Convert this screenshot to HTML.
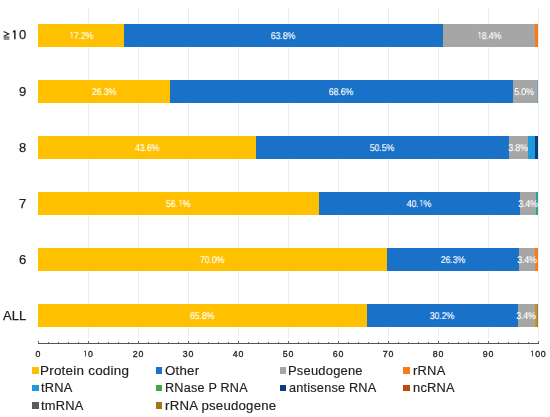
<!DOCTYPE html>
<html><head><meta charset="utf-8"><style>
*{margin:0;padding:0;box-sizing:border-box}
html,body{width:550px;height:417px;background:#fff;overflow:hidden}
body{position:relative;font-family:"Liberation Sans",sans-serif;color:#222}
.g{position:absolute;top:8px;height:330px;width:1px;background:#ececec}
.b{position:absolute;height:22.6px}
.s{position:absolute;top:0;height:100%}
.l{position:absolute;top:0.9px;text-rendering:geometricPrecision;height:100%;will-change:transform;display:flex;align-items:center;justify-content:center;color:#fff;font-size:9.8px;letter-spacing:-0.2px;white-space:nowrap;width:60px;margin-left:-30.25px;padding-top:0px;transform:scaleX(0.9);-webkit-text-stroke:0.15px #fff}
.yl{position:absolute;will-change:transform;-webkit-text-stroke:0.25px #222;right:523.8px;font-size:13px;color:#222;line-height:14px;height:14px;white-space:nowrap}
.ax{position:absolute;left:38px;top:342.8px;width:500.5px;height:1.1px;background:#555}
.tk{position:absolute;width:1px;background:#666}
.xl{position:absolute;will-change:transform;top:348.9px;font-size:8.8px;letter-spacing:0.8px;padding-left:0.8px;width:30px;margin-left:-15px;text-align:center;color:#222;line-height:10px;-webkit-text-stroke:0.3px #222}
.lg{position:absolute;will-change:transform;transform-origin:0 0;-webkit-text-stroke:0.15px #222;font-size:12px;letter-spacing:0.7px;color:#222;line-height:14px;white-space:nowrap}
.sq{position:absolute;width:6.5px;height:6.9px}
.h{position:absolute;width:0;overflow:hidden;color:transparent;-webkit-text-stroke:0}
.one{display:inline-block;width:0.556em;height:0.75em;fill:currentColor;vertical-align:baseline;overflow:visible}
</style></head><body>

<div class="g" style="left:87.5px"></div>
<div class="g" style="left:137.5px"></div>
<div class="g" style="left:187.5px"></div>
<div class="g" style="left:237.5px"></div>
<div class="g" style="left:287.5px"></div>
<div class="g" style="left:337.5px"></div>
<div class="g" style="left:387.5px"></div>
<div class="g" style="left:437.5px"></div>
<div class="g" style="left:487.5px"></div>
<div class="g" style="left:537.5px"></div>
<div class="b" style="top:24.15px;left:0;width:550px">
<div class="s" style="left:38.00px;width:86.00px;background:#FFC000"></div>
<div class="s" style="left:124.00px;width:319.00px;background:#1A72C8"></div>
<div class="s" style="left:443.00px;width:92.00px;background:#A6A6A6"></div>
<div class="s" style="left:535.00px;width:3.00px;background:#FA7A16"></div>
<div class="l" style="left:81.00px"><span><svg class="one" viewBox="0 0 556 750" aria-hidden="true"><path d="M251,750L340,750L340,80L259,80L96,190L96,270L251,164Z"/></svg><span class="h">1</span>7.2%</span></div>
<div class="l" style="left:283.50px"><span>63.8%</span></div>
<div class="l" style="left:489.00px"><span><svg class="one" viewBox="0 0 556 750" aria-hidden="true"><path d="M251,750L340,750L340,80L259,80L96,190L96,270L251,164Z"/></svg><span class="h">1</span>8.4%</span></div>
</div>
<div class="b" style="top:80.15px;left:0;width:550px">
<div class="s" style="left:38.00px;width:131.50px;background:#FFC000"></div>
<div class="s" style="left:169.50px;width:343.10px;background:#1A72C8"></div>
<div class="s" style="left:512.60px;width:24.20px;background:#A6A6A6"></div>
<div class="s" style="left:536.80px;width:1.50px;background:#6AA3BF"></div>
<div class="l" style="left:103.75px"><span>26.3%</span></div>
<div class="l" style="left:341.05px"><span>68.6%</span></div>
<div class="l" style="left:524.70px"><span>5.0%</span></div>
</div>
<div class="b" style="top:136.15px;left:0;width:550px">
<div class="s" style="left:38.00px;width:218.00px;background:#FFC000"></div>
<div class="s" style="left:256.00px;width:253.10px;background:#1A72C8"></div>
<div class="s" style="left:509.10px;width:18.80px;background:#A6A6A6"></div>
<div class="s" style="left:527.90px;width:6.80px;background:#1F98DC"></div>
<div class="s" style="left:534.70px;width:3.30px;background:#0A3D7A"></div>
<div class="l" style="left:147.00px"><span>43.6%</span></div>
<div class="l" style="left:382.55px"><span>50.5%</span></div>
<div class="l" style="left:518.50px"><span>3.8%</span></div>
</div>
<div class="b" style="top:192.15px;left:0;width:550px">
<div class="s" style="left:38.00px;width:280.60px;background:#FFC000"></div>
<div class="s" style="left:318.60px;width:201.10px;background:#1A72C8"></div>
<div class="s" style="left:519.70px;width:16.40px;background:#A6A6A6"></div>
<div class="s" style="left:536.10px;width:1.00px;background:#1F98DC"></div>
<div class="s" style="left:537.10px;width:0.90px;background:#3DAA45"></div>
<div class="l" style="left:178.30px"><span>56.<svg class="one" viewBox="0 0 556 750" aria-hidden="true"><path d="M251,750L340,750L340,80L259,80L96,190L96,270L251,164Z"/></svg><span class="h">1</span>%</span></div>
<div class="l" style="left:419.15px"><span>40.<svg class="one" viewBox="0 0 556 750" aria-hidden="true"><path d="M251,750L340,750L340,80L259,80L96,190L96,270L251,164Z"/></svg><span class="h">1</span>%</span></div>
<div class="l" style="left:527.90px"><span>3.4%</span></div>
</div>
<div class="b" style="top:248.15px;left:0;width:550px">
<div class="s" style="left:38.00px;width:349.00px;background:#FFC000"></div>
<div class="s" style="left:387.00px;width:131.80px;background:#1A72C8"></div>
<div class="s" style="left:518.80px;width:16.20px;background:#A6A6A6"></div>
<div class="s" style="left:535.00px;width:3.00px;background:#FA7A16"></div>
<div class="l" style="left:212.50px"><span>70.0%</span></div>
<div class="l" style="left:452.90px"><span>26.3%</span></div>
<div class="l" style="left:526.90px"><span>3.4%</span></div>
</div>
<div class="b" style="top:304.15px;left:0;width:550px">
<div class="s" style="left:38.00px;width:329.10px;background:#FFC000"></div>
<div class="s" style="left:367.10px;width:150.90px;background:#1A72C8"></div>
<div class="s" style="left:518.00px;width:17.00px;background:#A6A6A6"></div>
<div class="s" style="left:535.00px;width:2.00px;background:#FA7A16"></div>
<div class="s" style="left:537.00px;width:1.00px;background:#3DAA45"></div>
<div class="l" style="left:202.55px"><span>65.8%</span></div>
<div class="l" style="left:442.55px"><span>30.2%</span></div>
<div class="l" style="left:526.50px"><span>3.4%</span></div>
</div>
<div class="yl" style="top:28.07px"><span class="h">&#8807;1</span>0</div>
<svg style="position:absolute;left:0;top:0" width="20" height="60" viewBox="0 0 20 60"><polyline points="3.7,31.4 8.8,33.9 3.7,36.3" fill="none" stroke="#222" stroke-width="1.1"/><line x1="3.7" y1="37.1" x2="9.4" y2="37.1" stroke="#222" stroke-width="1.0"/><line x1="3.7" y1="39.0" x2="9.4" y2="39.0" stroke="#222" stroke-width="1.0"/><path d="M14.1,30.3 L15.6,30.3 L15.6,39.3 L14.1,39.3 L14.1,32.0 L12.8,32.8 L12.8,31.3 Z" fill="#222"/></svg>
<div class="yl" style="top:84.58px">9</div>
<div class="yl" style="top:140.57px">8</div>
<div class="yl" style="top:196.57px">7</div>
<div class="yl" style="top:252.58px">6</div>
<div class="yl" style="top:308.57px">ALL</div>
<div class="ax"></div>
<div class="tk" style="left:37.5px;top:340.8px;height:2.2px"></div>
<div class="tk" style="left:47.5px;top:341.7px;height:1.3px"></div>
<div class="tk" style="left:57.5px;top:341.7px;height:1.3px"></div>
<div class="tk" style="left:67.5px;top:341.7px;height:1.3px"></div>
<div class="tk" style="left:77.5px;top:341.7px;height:1.3px"></div>
<div class="tk" style="left:87.5px;top:340.8px;height:2.2px"></div>
<div class="tk" style="left:97.5px;top:341.7px;height:1.3px"></div>
<div class="tk" style="left:107.5px;top:341.7px;height:1.3px"></div>
<div class="tk" style="left:117.5px;top:341.7px;height:1.3px"></div>
<div class="tk" style="left:127.5px;top:341.7px;height:1.3px"></div>
<div class="tk" style="left:137.5px;top:340.8px;height:2.2px"></div>
<div class="tk" style="left:147.5px;top:341.7px;height:1.3px"></div>
<div class="tk" style="left:157.5px;top:341.7px;height:1.3px"></div>
<div class="tk" style="left:167.5px;top:341.7px;height:1.3px"></div>
<div class="tk" style="left:177.5px;top:341.7px;height:1.3px"></div>
<div class="tk" style="left:187.5px;top:340.8px;height:2.2px"></div>
<div class="tk" style="left:197.5px;top:341.7px;height:1.3px"></div>
<div class="tk" style="left:207.5px;top:341.7px;height:1.3px"></div>
<div class="tk" style="left:217.5px;top:341.7px;height:1.3px"></div>
<div class="tk" style="left:227.5px;top:341.7px;height:1.3px"></div>
<div class="tk" style="left:237.5px;top:340.8px;height:2.2px"></div>
<div class="tk" style="left:247.5px;top:341.7px;height:1.3px"></div>
<div class="tk" style="left:257.5px;top:341.7px;height:1.3px"></div>
<div class="tk" style="left:267.5px;top:341.7px;height:1.3px"></div>
<div class="tk" style="left:277.5px;top:341.7px;height:1.3px"></div>
<div class="tk" style="left:287.5px;top:340.8px;height:2.2px"></div>
<div class="tk" style="left:297.5px;top:341.7px;height:1.3px"></div>
<div class="tk" style="left:307.5px;top:341.7px;height:1.3px"></div>
<div class="tk" style="left:317.5px;top:341.7px;height:1.3px"></div>
<div class="tk" style="left:327.5px;top:341.7px;height:1.3px"></div>
<div class="tk" style="left:337.5px;top:340.8px;height:2.2px"></div>
<div class="tk" style="left:347.5px;top:341.7px;height:1.3px"></div>
<div class="tk" style="left:357.5px;top:341.7px;height:1.3px"></div>
<div class="tk" style="left:367.5px;top:341.7px;height:1.3px"></div>
<div class="tk" style="left:377.5px;top:341.7px;height:1.3px"></div>
<div class="tk" style="left:387.5px;top:340.8px;height:2.2px"></div>
<div class="tk" style="left:397.5px;top:341.7px;height:1.3px"></div>
<div class="tk" style="left:407.5px;top:341.7px;height:1.3px"></div>
<div class="tk" style="left:417.5px;top:341.7px;height:1.3px"></div>
<div class="tk" style="left:427.5px;top:341.7px;height:1.3px"></div>
<div class="tk" style="left:437.5px;top:340.8px;height:2.2px"></div>
<div class="tk" style="left:447.5px;top:341.7px;height:1.3px"></div>
<div class="tk" style="left:457.5px;top:341.7px;height:1.3px"></div>
<div class="tk" style="left:467.5px;top:341.7px;height:1.3px"></div>
<div class="tk" style="left:477.5px;top:341.7px;height:1.3px"></div>
<div class="tk" style="left:487.5px;top:340.8px;height:2.2px"></div>
<div class="tk" style="left:497.5px;top:341.7px;height:1.3px"></div>
<div class="tk" style="left:507.5px;top:341.7px;height:1.3px"></div>
<div class="tk" style="left:517.5px;top:341.7px;height:1.3px"></div>
<div class="tk" style="left:527.5px;top:341.7px;height:1.3px"></div>
<div class="tk" style="left:537.5px;top:340.8px;height:2.2px"></div>
<div class="xl" style="left:38.0px">0</div>
<div class="xl" style="left:88.0px"><svg class="one" viewBox="0 0 556 750" aria-hidden="true"><path d="M251,750L340,750L340,80L259,80L96,190L96,270L251,164Z"/></svg><span class="h">1</span>0</div>
<div class="xl" style="left:138.0px">20</div>
<div class="xl" style="left:188.0px">30</div>
<div class="xl" style="left:238.0px">40</div>
<div class="xl" style="left:288.0px">50</div>
<div class="xl" style="left:338.0px">60</div>
<div class="xl" style="left:388.0px">70</div>
<div class="xl" style="left:438.0px">80</div>
<div class="xl" style="left:488.0px">90</div>
<div class="xl" style="left:538.0px"><svg class="one" viewBox="0 0 556 750" aria-hidden="true"><path d="M251,750L340,750L340,80L259,80L96,190L96,270L251,164Z"/></svg><span class="h">1</span>00</div>
<div class="sq" style="left:32.0px;top:367.3px;background:#FFC000"></div>
<div class="lg" style="left:40.08px;top:363.7px;letter-spacing:0.20px;transform:scaleX(1.1218)">Protein coding</div>
<div class="sq" style="left:155.6px;top:367.3px;background:#1A72C8"></div>
<div class="lg" style="left:164.97px;top:363.7px;letter-spacing:0.20px;transform:scaleX(1.1082)">Other</div>
<div class="sq" style="left:279.5px;top:367.3px;background:#A6A6A6"></div>
<div class="lg" style="left:288.25px;top:363.7px;letter-spacing:0.20px;transform:scaleX(1.0772)">Pseudogene</div>
<div class="sq" style="left:403.1px;top:367.3px;background:#FA7A16"></div>
<div class="lg" style="left:412.64px;top:363.7px;letter-spacing:0.20px;transform:scaleX(1.0790)">rRNA</div>
<div class="sq" style="left:32.0px;top:384.6px;background:#1F98DC"></div>
<div class="lg" style="left:41.11px;top:380.9px;letter-spacing:0.20px;transform:scaleX(1.0677)">tRNA</div>
<div class="sq" style="left:155.6px;top:384.6px;background:#3DAA45"></div>
<div class="lg" style="left:164.52px;top:380.9px;letter-spacing:0.20px;transform:scaleX(1.0527)">RNase P RNA</div>
<div class="sq" style="left:279.5px;top:384.6px;background:#0A3D7A"></div>
<div class="lg" style="left:288.77px;top:380.9px;letter-spacing:0.20px;transform:scaleX(1.0575)">antisense RNA</div>
<div class="sq" style="left:403.1px;top:384.6px;background:#BE4C12"></div>
<div class="lg" style="left:412.66px;top:380.9px;letter-spacing:0.20px;transform:scaleX(1.0733)">ncRNA</div>
<div class="sq" style="left:32.0px;top:402.0px;background:#5C5C5C"></div>
<div class="lg" style="left:41.09px;top:398.8px;letter-spacing:0.20px;transform:scaleX(1.0714)">tmRNA</div>
<div class="sq" style="left:155.6px;top:402.0px;background:#A8740F"></div>
<div class="lg" style="left:164.63px;top:398.8px;letter-spacing:0.20px;transform:scaleX(1.1025)">rRNA pseudogene</div>
</body></html>
